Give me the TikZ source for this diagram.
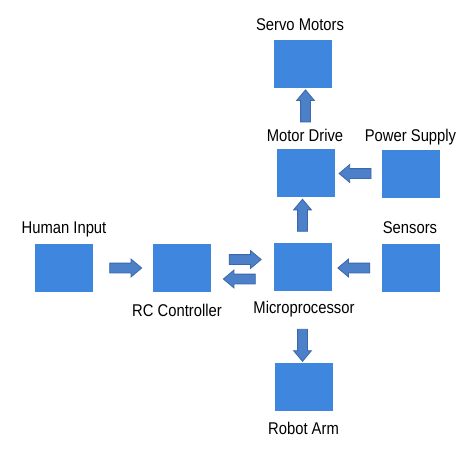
\documentclass[tikz,border=0pt]{standalone}
\usepackage{fontspec}
\usepackage{graphicx}
\setmainfont{Liberation Sans}
\usetikzlibrary{shapes.arrows,calc}
\definecolor{boxblue}{RGB}{62,134,222}
\definecolor{arrfill}{RGB}{76,128,200}
\definecolor{arrdraw}{RGB}{58,104,168}
\newcommand\lbltext[1]{\scalebox{0.87}[1]{#1}}
\begin{document}
\begin{tikzpicture}[x=1pt,y=-1pt,
  blk/.style={fill=boxblue,draw=none,minimum width=58pt,minimum height=48pt,inner sep=0pt},
  lbl/.style={anchor=base,inner sep=0pt,font=\fontsize{17}{20}\selectfont},
  barrow/.style={single arrow,fill=arrfill,draw=arrdraw,line width=0.8pt,
    minimum height=32pt,minimum width=9pt,single arrow head extend=4pt,
    single arrow tip angle=80,inner sep=0pt,sloped,allow upside down,
    execute at begin node={\rule{0pt}{9pt}}}]
\useasboundingbox (0,0) rectangle (474,452);
% boxes
\node[blk] (servo) at (302.5,64) {};
\node[blk] (md) at (305.5,173) {};
\node[blk] (ps) at (410.5,173.5) {};
\node[blk] (micro) at (302.5,267) {};
\node[blk] (sens) at (411,268) {};
\node[blk] (hi) at (63.5,268) {};
\node[blk] (rc) at (182,267.5) {};
\node[blk] (robot) at (303.5,387) {};
% labels
\node[lbl] (lservo) at (300,31) {\lbltext{Servo Motors}};
\node[lbl] (lmd) at (305,141) {\lbltext{Motor Drive}};
\node[lbl] (lps) at (410.5,141) {\lbltext{Power Supply}};
\node[lbl] (lhi) at (64,233) {\lbltext{Human Input}};
\node[lbl] (lsens) at (410,233) {\lbltext{Sensors}};
\node[lbl] (lrc) at (177,316.5) {\lbltext{RC Controller}};
\node[lbl] (lmicro) at (304,313) {\lbltext{Microprocessor}};
\node[lbl] (lrobot) at (303.5,434) {\lbltext{Robot Arm}};
% arrows
\path (hi.east) -- node[barrow]{} (hi.east -| rc.west);
\path ([yshift=8pt]rc.east) -- node[barrow]{} ([yshift=8pt]rc.east -| micro.west);
\path ([yshift=-12pt]micro.west) -- node[barrow]{} ([yshift=-12pt]micro.west -| rc.east);
\path (sens.west) -- node[barrow]{} (sens.west -| micro.east);
\path (ps.west) -- node[barrow]{} (ps.west -| md.east);
\path (micro.north) -- node[barrow,pos=0.54]{} (micro.north |- md.south);
\path (md.north) -- node[barrow,pos=0.66]{} (md.north |- servo.south);
\path (micro.south) -- node[barrow,pos=0.715]{} (micro.south |- robot.north);
\end{tikzpicture}
\end{document}
